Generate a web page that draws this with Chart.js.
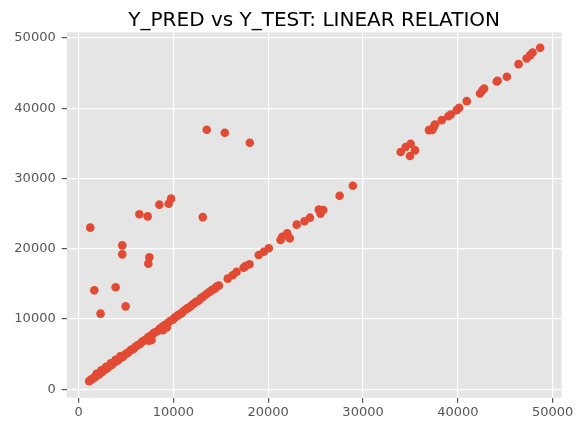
<!DOCTYPE html>
<html>
<head>
<meta charset="utf-8">
<script src="https://cdn.jsdelivr.net/npm/chart.js@4.4.0/dist/chart.umd.min.js"></script>
<style>
html,body{margin:0;padding:0;background:#fff;}
#wrap{position:relative;width:582px;height:428px;}
</style>
</head>
<body>
<div id="wrap"><canvas id="c" width="582" height="428"></canvas></div>
<script>
const chartTitle = "Y_PRED vs Y_TEST: LINEAR RELATION";
const xTicks = [0, 10000, 20000, 30000, 40000, 50000];
const yTicks = [0, 10000, 20000, 30000, 40000, 50000];

// y_test values (x axis)
const yTest = [
  1120, 1250, 1400, 1550, 1700, 1850, 2000, 2150, 2300, 2500, 2650, 2800, 3000, 3150, 3300,
  3500, 3650, 3800, 4000, 4150, 4300, 4500, 4650, 4800, 5000, 5200, 5400, 5600, 5800, 6000,
  6250, 6450, 6700, 6900, 7100, 7300, 7500, 7700, 7900, 8100, 8350, 8550, 8800, 9000, 9250,
  9450, 9700, 9950, 10150, 10400, 10600, 10850, 11050, 11300, 11500, 11750, 11950, 12200, 12400, 12650,
  12900, 13100, 13400, 13650, 13900, 14100, 14350, 14550, 14800,
  1900, 2400, 2900, 3400, 3900, 4400, 7400, 7700, 8900, 9300,
  15730, 16250, 16650, 17400, 17600, 18030, 19000, 19540, 20060, 21300, 21480, 22000, 22280,
  23000, 23830, 24400, 25340, 25520, 25800, 27530, 28930,
  33970, 34500, 35020, 34950, 35480, 36950, 37300, 37470, 37580, 38300, 39000, 39250, 39880, 40130,
  40940, 42340, 42600, 42770, 44100, 44190, 45170, 46400, 47250, 47620, 47880, 48680,
  1235, 6410, 7290, 8520, 9500, 9760, 13100, 4610, 4610, 7470, 7360, 1660, 3910, 4960, 2320,
  13520, 15420, 18060
];
// y_pred values (y axis)
const yPred = [
  1150, 1300, 1420, 1600, 1680, 1900, 2050, 2100, 2350, 2450, 2700, 2850, 2950, 3200, 3350,
  3450, 3700, 3850, 4050, 4100, 4350, 4550, 4600, 4850, 5050, 5150, 5450, 5650, 5750, 6050,
  6300, 6400, 6750, 6950, 7050, 7350, 7550, 7650, 7950, 8150, 8300, 8600, 8850, 9050, 9200,
  9500, 9750, 9900, 10200, 10450, 10650, 10800, 11100, 11350, 11550, 11700, 12000, 12250, 12450, 12600,
  12950, 13150, 13450, 13700, 13950, 14150, 14300, 14600, 14750,
  2200, 2700, 3200, 3700, 4200, 4700, 6900, 7000, 8400, 8800,
  15750, 16230, 16700, 17300, 17530, 17800, 19100, 19570, 20060, 21240, 21700, 22190, 21480,
  23430, 23900, 24420, 25560, 25000, 25500, 27550, 28970,
  33760, 34470, 34950, 33190, 34000, 36880, 36900, 37350, 37680, 38300, 38860, 39100, 39730, 40050,
  41000, 42090, 42560, 42800, 43800, 43900, 44470, 46270, 47080, 47550, 47930, 48590,
  23000, 24900, 24600, 26270, 26400, 27130, 24500, 20480, 19200, 18780, 17880, 14080, 14510, 11800, 10760,
  36940, 36510, 35090
];

const points = yTest.map((v, i) => ({x: v, y: yPred[i]}));

const bgPlugin = {
  id: 'bg',
  beforeDraw(chart) {
    const {ctx, chartArea: a} = chart;
    ctx.save();
    ctx.fillStyle = '#ffffff';
    ctx.fillRect(0, 0, chart.width, chart.height);
    ctx.fillStyle = '#E5E5E5';
    ctx.fillRect(a.left, a.top, a.right - a.left, a.bottom - a.top);
    ctx.restore();
  },
  afterDraw(chart) {
    const {ctx, chartArea: a} = chart;
    ctx.save();
    ctx.fillStyle = '#000000';
    ctx.font = '20px "DejaVu Sans"';
    ctx.textAlign = 'center';
    ctx.textBaseline = 'alphabetic';
    ctx.fillText(chartTitle, (a.left + a.right) / 2, 25.5);
    ctx.restore();
  }
};

const tickFont = {family: 'DejaVu Sans', size: 13};

new Chart(document.getElementById('c'), {
  type: 'scatter',
  data: {
    datasets: [{
      data: points,
      backgroundColor: '#E24A33',
      borderWidth: 0,
      pointRadius: 4.3,
      pointHoverRadius: 4.3
    }]
  },
  options: {
    responsive: false,
    animation: false,
    devicePixelRatio: 1,
    layout: {padding: {left: 0, right: 20.3, top: 32.3, bottom: 0}},
    plugins: {legend: {display: false}, tooltip: {enabled: false}, title: {display: false}},
    scales: {
      x: {
        type: 'linear',
        min: -1250,
        max: 50950,
        afterFit(s) { s.height = 30.3; },
        afterBuildTicks(s) { s.ticks = xTicks.map(v => ({value: v})); },
        grid: {color: '#ffffff', lineWidth: 1.2, tickColor: '#555555', tickLength: 5, drawOnChartArea: true},
        border: {display: false},
        ticks: {color: '#555555', font: tickFont, padding: 2, maxRotation: 0, autoSkip: false,
                callback: v => String(v)}
      },
      y: {
        type: 'linear',
        min: -1200,
        max: 50800,
        afterFit(s) { s.width = 66.7; },
        afterBuildTicks(s) { s.ticks = yTicks.map(v => ({value: v})); },
        grid: {color: '#ffffff', lineWidth: 1.2, tickColor: '#555555', tickLength: 5},
        border: {display: false},
        ticks: {color: '#555555', font: tickFont, padding: 6, autoSkip: false,
                callback: v => String(v)}
      }
    }
  },
  plugins: [bgPlugin]
});
</script>
</body>
</html>
